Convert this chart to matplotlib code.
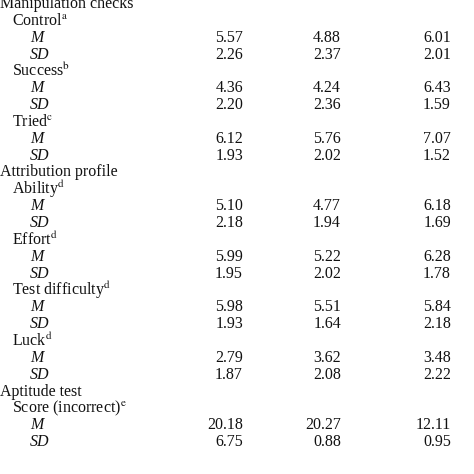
import matplotlib
matplotlib.use("Agg")
import matplotlib.pyplot as plt

labels = ["Manipulation checks", "Control$^{\\mathrm{a}}$", "M", "SD", "Success$^{\\mathrm{b}}$", "M", "SD",
          "Tried$^{\\mathrm{c}}$", "M", "SD", "Attribution profile", "Ability$^{\\mathrm{d}}$", "M", "SD",
          "Effort$^{\\mathrm{d}}$", "M", "SD", "Test difficulty$^{\\mathrm{d}}$", "M", "SD",
          "Luck$^{\\mathrm{d}}$", "M", "SD", "Aptitude test", "Score (incorrect)$^{\\mathrm{e}}$", "M", "SD"]
levels = [0, 1, 2, 2, 1, 2, 2, 1, 2, 2, 0, 1, 2, 2, 1, 2, 2, 1, 2, 2, 1, 2, 2, 0, 1, 2, 2]
col1 = ["", "", "5.57", "2.26", "", "4.36", "2.20", "", "6.12", "1.93", "", "", "5.10", "2.18", "", "5.99", "1.95",
        "", "5.98", "1.93", "", "2.79", "1.87", "", "", "20.18", "6.75"]
col2 = ["", "", "4.88", "2.37", "", "4.24", "2.36", "", "5.76", "2.02", "", "", "4.77", "1.94", "", "5.22", "2.02",
        "", "5.51", "1.64", "", "3.62", "2.08", "", "", "20.27", "0.88"]
col3 = ["", "", "6.01", "2.01", "", "6.43", "1.59", "", "7.07", "1.52", "", "", "6.18", "1.69", "", "6.28", "1.78",
        "", "5.84", "2.18", "", "3.48", "2.22", "", "", "12.11", "0.95"]

plt.rcParams['font.family'] = ['Liberation Serif']
plt.rcParams['mathtext.fontset'] = 'stix'
fig = plt.figure(figsize=(4.74, 4.74), dpi=100)
ax = fig.add_axes([0, 0, 1, 1])
ax.set_xlim(0, 474)
ax.set_ylim(474, 0)
ax.axis('off')

indent = {0: 0, 1: 12, 2: 30}
fs = 11.5
for i, (lab, lv) in enumerate(zip(labels, levels)):
    y = 4 + i * 16.85
    ax.text(indent[lv], y, lab, fontsize=fs, va='center', ha='left',
            style='italic' if lv == 2 else 'normal', color='#111111')
    for x, col in zip([243, 341, 451], [col1, col2, col3]):
        if col[i]:
            ax.text(x, y, col[i], fontsize=fs, va='center', ha='right', color='#111111')

fig.savefig("out.png", dpi=100)
